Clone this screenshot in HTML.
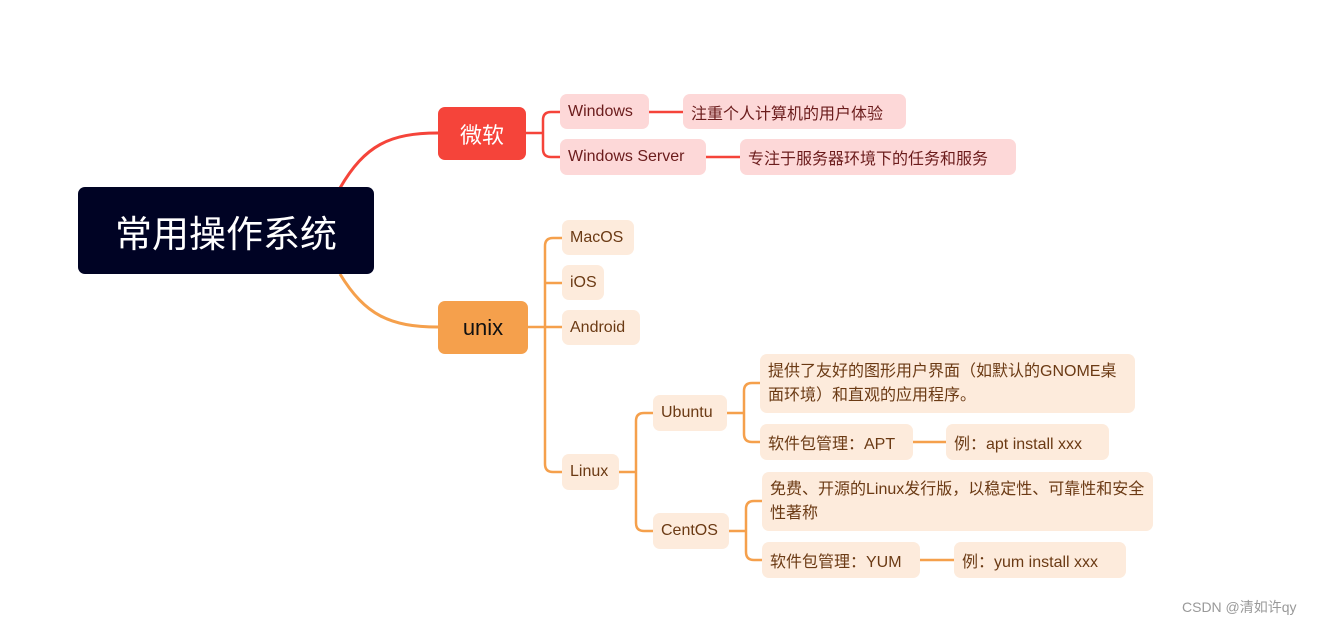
<!DOCTYPE html>
<html><head><meta charset="utf-8"><style>
body{margin:0;width:1327px;height:625px;background:#fff;position:relative;overflow:hidden;font-family:"Liberation Sans","Noto Sans CJK SC",sans-serif;}
.n{position:absolute;box-sizing:border-box;border-radius:7px;font-size:16px;display:flex;align-items:center;padding:0 8px;white-space:nowrap;}
.r{background:#fdd8d8;color:#6b1c1c;}
.o{background:#fdebdc;color:#6b3a14;}
.ml{white-space:normal;line-height:24px;align-items:center;}
svg{position:absolute;left:0;top:0;}
</style></head><body>
<svg width="1327" height="625" fill="none" stroke-width="2.5">
<path d="M340 188 C365 145 390 133 438 133" stroke="#f5443a" stroke-width="3"/>
<path d="M340 274 C365 315 390 327 438 327" stroke="#f5a04c" stroke-width="3"/>
<g stroke="#f5443a">
<path d="M526 133 H543"/>
<path d="M560 112 H551 Q543 112 543 120 V149 Q543 157 551 157 H560"/>
<path d="M649 112 H683"/><path d="M706 157 H740"/>
</g>
<g stroke="#f5a04c">
<path d="M528 327 H562"/>
<path d="M562 238 H553 Q545 238 545 246 V464 Q545 472 553 472 H562"/>
<path d="M545 283 H562"/>
<path d="M619 472 H636"/>
<path d="M653 413 H644 Q636 413 636 421 V523 Q636 531 644 531 H653"/>
<path d="M727 413 H744"/>
<path d="M760 383 H752 Q744 383 744 391 V434 Q744 442 752 442 H760"/>
<path d="M913 442 H946"/>
<path d="M729 531 H746"/>
<path d="M762 501 H754 Q746 501 746 509 V552 Q746 560 754 560 H762"/>
<path d="M920 560 H954"/>
</g>
</svg>
<div class="n" style="left:78px;top:187px;width:296px;height:87px;background:#000324;color:#fff;font-size:37px;justify-content:center;">常用操作系统</div>
<div class="n" style="left:438px;top:107px;width:88px;height:53px;background:#f5443a;color:#fff;font-size:22px;justify-content:center;">微软</div>
<div class="n" style="left:438px;top:301px;width:90px;height:53px;background:#f5a04c;color:#111;font-size:22px;justify-content:center;">unix</div>
<div class="n r" style="left:560px;top:94px;width:89px;height:35px;">Windows</div>
<div class="n r" style="left:683px;top:94px;width:223px;height:35px;">注重个人计算机的用户体验</div>
<div class="n r" style="left:560px;top:139px;width:146px;height:36px;">Windows Server</div>
<div class="n r" style="left:740px;top:139px;width:276px;height:36px;">专注于服务器环境下的任务和服务</div>
<div class="n o" style="left:562px;top:220px;width:72px;height:35px;">MacOS</div>
<div class="n o" style="left:562px;top:265px;width:42px;height:35px;">iOS</div>
<div class="n o" style="left:562px;top:310px;width:78px;height:35px;">Android</div>
<div class="n o" style="left:562px;top:454px;width:57px;height:36px;">Linux</div>
<div class="n o" style="left:653px;top:395px;width:74px;height:36px;">Ubuntu</div>
<div class="n o ml" style="left:760px;top:354px;width:375px;height:59px;">提供了友好的图形用户界面（如默认的GNOME桌面环境）和直观的应用程序。</div>
<div class="n o" style="left:760px;top:424px;width:153px;height:36px;">软件包管理：APT</div>
<div class="n o" style="left:946px;top:424px;width:163px;height:36px;">例：apt install xxx</div>
<div class="n o" style="left:653px;top:513px;width:76px;height:36px;">CentOS</div>
<div class="n o ml" style="left:762px;top:472px;width:391px;height:59px;">免费、开源的Linux发行版，以稳定性、可靠性和安全性著称</div>
<div class="n o" style="left:762px;top:542px;width:158px;height:36px;">软件包管理：YUM</div>
<div class="n o" style="left:954px;top:542px;width:172px;height:36px;">例：yum install xxx</div>
<div style="position:absolute;left:1182px;top:597px;font-size:14px;color:#999;">CSDN @清如许qy</div>
</body></html>
